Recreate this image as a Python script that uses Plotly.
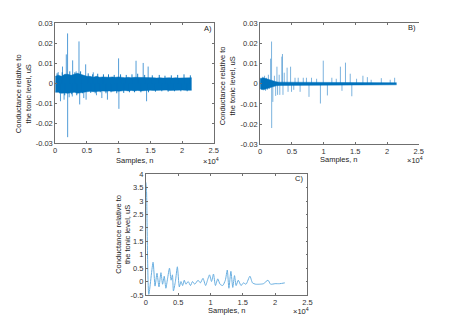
import plotly.graph_objects as go

W, H = 474, 334

# ---------------- data ----------------
# Panel A: dense noise band (envelope) + spikes
band_x = [0, 500, 1000, 1500, 2000, 2500, 3000, 3500, 4000, 4500, 5000, 5500, 6000, 6500, 7000,
          7500, 8000, 8500, 9000, 9500, 10000, 10500, 11000, 11500, 12000, 12500, 13000, 13500,
          14000, 14500, 15000, 15500, 16000, 16500, 17000, 17500, 18000, 18500, 19000, 19500,
          20000, 20500, 21000, 21500]
a_hi = [0.0035, 0.004, 0.0035, 0.0045, 0.0045, 0.004, 0.0045, 0.005, 0.0045, 0.004,
        0.0035, 0.0035, 0.003, 0.0035, 0.003, 0.0032, 0.003, 0.003, 0.0032, 0.003,
        0.0032, 0.003, 0.0028, 0.003, 0.0028, 0.003, 0.003, 0.0028, 0.003, 0.003,
        0.0028, 0.0028, 0.0026, 0.0028, 0.0026, 0.0028, 0.0028, 0.0026, 0.0028, 0.0026,
        0.0026, 0.0028, 0.0026, 0.0028]
a_lo = [-0.0045, -0.0045, -0.005, -0.0048, -0.005, -0.0048, -0.0045, -0.005, -0.0048, -0.0045,
        -0.0042, -0.004, -0.0042, -0.004, -0.004, -0.0038, -0.004, -0.0038, -0.004, -0.0038,
        -0.004, -0.0038, -0.0036, -0.0038, -0.0036, -0.0038, -0.0036, -0.0038, -0.0036, -0.0036,
        -0.0035, -0.0036, -0.0035, -0.0036, -0.0035, -0.0034, -0.0036, -0.0035, -0.0034, -0.0035,
        -0.0034, -0.0035, -0.0034, -0.0035]
a_small_x = [300, 700, 1100, 1500, 2300, 2600, 3100, 3400, 4000, 4300, 5200, 5600, 5900, 6300,
             6700, 7100, 7600, 8000, 8400, 8800, 9300, 9700, 10300, 10800, 11200, 11700, 12100,
             12500, 13000, 13500, 14100, 14700, 15300, 15800, 16400, 16800, 17300, 17800, 18300,
             18800, 19300, 19800, 20300, 20800, 21300]
a_small_v = [0.005, -0.005, 0.0055, -0.006, 0.006, -0.0055, 0.0055, -0.006, 0.006, -0.005,
             0.005, -0.0048, 0.0045, -0.005, 0.0048, -0.0045, 0.0045, -0.005, 0.0045, -0.0045,
             0.0042, -0.005, 0.0045, -0.0048, 0.0042, -0.0045, 0.0045, -0.0045, 0.0048, -0.0045,
             0.0042, -0.0045, 0.004, -0.0042, 0.0042, -0.004, 0.0038, -0.0042, 0.004, -0.004,
             0.0042, -0.004, 0.0045, -0.004, 0.004]
a_spk_x = [470, 830, 1150, 1400, 1750, 1950, 1960, 2200, 2690, 2750, 3300, 3750, 3860, 4500,
           4800, 4870, 6000, 6500, 7350, 8230, 9990, 10040, 12740, 13870, 14400, 14650]
a_spk_v = [0.0056, -0.009, 0.0084, -0.0082, 0.0145, 0.025, -0.027, -0.007, -0.0066, 0.0115,
           0.006, 0.021, -0.0106, -0.0074, 0.0095, -0.0082, 0.0055, -0.006, -0.0074, -0.0082,
           0.0125, -0.0128, 0.0113, 0.0102, -0.009, 0.0084]

# Panel B: thin baseline + biphasic spikes
b_hi = [0.0025, 0.003, 0.0025, 0.002, 0.0012, 0.001, 0.0008, 0.0008, 0.0007, 0.0006,
        0.0006, 0.0005, 0.0005, 0.0005, 0.0005, 0.0005, 0.0005, 0.0005, 0.0005, 0.0005,
        0.0005, 0.0005, 0.0005, 0.0005, 0.0005, 0.0005, 0.0005, 0.0005, 0.0005, 0.0005,
        0.0005, 0.0005, 0.0005, 0.0005, 0.0005, 0.0005, 0.0005, 0.0005, 0.0005, 0.0005,
        0.0005, 0.0005, 0.0005, 0.0005]
b_lo = [-0.0025, -0.003, -0.0025, -0.002, -0.0012, -0.001, -0.0008, -0.0008, -0.0007, -0.0006,
        -0.0006, -0.0005, -0.0005, -0.0005, -0.0005, -0.0005, -0.0005, -0.0005, -0.0005, -0.0005,
        -0.0005, -0.0005, -0.0005, -0.0005, -0.0005, -0.0005, -0.0005, -0.0005, -0.0005, -0.0005,
        -0.0005, -0.0005, -0.0005, -0.0005, -0.0005, -0.0005, -0.0005, -0.0005, -0.0005, -0.0005,
        -0.0005, -0.0005, -0.0005, -0.0005]
b_spk_x = [100, 250, 400, 550, 700, 850, 1000, 1150, 1300, 1450, 1650, 1800, 1820, 2000, 2250,
           2450, 2650, 2750, 3000, 3100, 3420, 3520, 3600, 3800, 4250, 4400, 4800, 4950, 5300,
           5500, 6000, 6300, 6800, 7300, 7700, 8100, 8900, 9500, 9950, 10600, 11300, 12000,
           12650, 12900, 13450, 14200, 14450, 15200, 16200, 16900, 17500, 19100, 20500, 21200]
b_spk_v = [0.003, -0.003, 0.0035, -0.002, 0.004, -0.0035, 0.003, -0.003, 0.0045, -0.0025,
           0.0125, 0.021, -0.022, -0.009, 0.004, -0.006, 0.0085, -0.0055, 0.0045, -0.0055,
           0.0135, 0.0148, -0.0055, 0.0055, 0.008, -0.004, 0.0085, -0.004, -0.003, 0.003,
           0.003, -0.004, 0.003, 0.003, -0.0065, 0.003, 0.0025, -0.0098, 0.0115, -0.0058,
           0.003, 0.0025, 0.0085, -0.0035, 0.0105, 0.005, -0.0062, 0.0025, 0.004, 0.0033,
           0.002, 0.0028, 0.002, 0.003]

# Panel C: smooth decaying response
c_x = [0, 102, 457, 1118, 1422, 1727, 2032, 2337, 2590, 2845, 3099, 3353, 3658, 3912, 4115,
       4267, 4572, 4877, 5182, 5436, 5690, 5944, 6198, 6553, 6909, 7214, 7570, 8077, 8433,
       8839, 9246, 9602, 9856, 10160, 10465, 10770, 11126, 11482, 11888, 12300, 12600, 12850,
       13160, 13450, 13720, 13970, 14300, 14730, 15100, 15500, 16100, 16500, 17000, 17600,
       18200, 18900, 19300, 20000, 20700, 21500]
c_y = [3.7, 3.4, -0.48, 0.72, -0.17, 0.31, -0.2, 0.33, -0.1, 0.2, -0.25, 0.1, 0.5, 0.05, 0.25,
       -0.35, 0.0, 0.55, -0.2, 0.0, -0.15, 0.05, -0.1, 0.0, -0.15, 0.0, -0.1, 0.05, -0.05,
       0.12, -0.15, 0.1, 0.25, 0.0, 0.28, -0.15, 0.1, -0.1, -0.15, 0.05, 0.43, -0.25,
       0.38, -0.22, 0.22, -0.15, 0.05, -0.15, -0.05, -0.1, 0.2, -0.05, -0.1, -0.1,
       -0.08, 0.05, -0.1, -0.08, -0.08, -0.05]

x_tickvals = [0, 5000, 10000, 15000, 20000, 25000]
x_ticktext = ["0", "0.5", "1", "1.5", "2", "2.5"]
ab_yticks = [-0.03, -0.02, -0.01, 0, 0.01, 0.02, 0.03]
ab_yticktext = ["-0.03", "-0.02", "-0.01", "0", "0.01", "0.02", "0.03"]
c_yticks = [-0.5, 0, 0.5, 1, 1.5, 2, 2.5, 3, 3.5, 4]
c_yticktext = ["-0.5", "0", "0.5", "1", "1.5", "2", "2.5", "3", "3.5", "4"]

ytitle = "Conductance relative to<br>the tonic level, uS"
xtitle = "Samples, n"

# ---------------- helpers ----------------
def segs(xs, vs):
    X, Y = [], []
    for x, v in zip(xs, vs):
        X += [x, x, None]
        Y += [0, v, None]
    return X, Y

FONT = "Liberation Sans, Arial, sans-serif"
BLUE = "#0072BD"
LIGHT = "#3f92d2"
FS = 7.5

fig = go.Figure()

# Panel A
sx, sy = segs(a_spk_x, a_spk_v)
fig.add_trace(go.Scatter(x=sx, y=sy, mode="lines", line=dict(color=LIGHT, width=0.9),
                         xaxis="x", yaxis="y", hoverinfo="skip"))
fig.add_trace(go.Scatter(x=band_x, y=a_lo, mode="lines", line=dict(color=BLUE, width=0.5),
                         xaxis="x", yaxis="y", hoverinfo="skip"))
fig.add_trace(go.Scatter(x=band_x, y=a_hi, mode="lines", line=dict(color=BLUE, width=0.5),
                         fill="tonexty", fillcolor=BLUE, xaxis="x", yaxis="y", hoverinfo="skip"))
sx, sy = segs(a_small_x, a_small_v)
fig.add_trace(go.Scatter(x=sx, y=sy, mode="lines", line=dict(color=BLUE, width=0.9),
                         xaxis="x", yaxis="y", hoverinfo="skip"))

# Panel B
sx, sy = segs(b_spk_x, b_spk_v)
fig.add_trace(go.Scatter(x=sx, y=sy, mode="lines", line=dict(color="#5a9fd6", width=0.8),
                         xaxis="x2", yaxis="y2", hoverinfo="skip"))
fig.add_trace(go.Scatter(x=band_x, y=b_lo, mode="lines", line=dict(color=BLUE, width=0.5),
                         xaxis="x2", yaxis="y2", hoverinfo="skip"))
fig.add_trace(go.Scatter(x=band_x, y=b_hi, mode="lines", line=dict(color=BLUE, width=0.5),
                         fill="tonexty", fillcolor=BLUE, xaxis="x2", yaxis="y2", hoverinfo="skip"))

# Panel C
fig.add_trace(go.Scatter(x=c_x, y=c_y, mode="lines", line=dict(color="#6aafe0", width=1.0,
                         shape="spline", smoothing=0.6), xaxis="x3", yaxis="y3", hoverinfo="skip"))

def px2x(p):
    return p / W

def py2y(p):
    return 1 - p / H

axcol = "#6f6f6f"
tickfont = dict(family=FONT, size=FS, color="#333333")

def xaxis(dom, anchor):
    return dict(domain=dom, anchor=anchor, range=[0, 25000], tickvals=x_tickvals,
                ticktext=x_ticktext, ticks="inside", ticklen=2, tickcolor=axcol,
                showline=True, linecolor=axcol, linewidth=0.8, mirror="allticks",
                showgrid=False, zeroline=False, tickfont=tickfont, fixedrange=True)

def yaxis(dom, anchor, rng, tv, tt, mirror="allticks"):
    return dict(domain=dom, anchor=anchor, range=rng, tickvals=tv, ticktext=tt,
                ticks="inside", ticklen=2, tickcolor=axcol, showline=True, linecolor=axcol,
                linewidth=0.8, mirror=mirror, showgrid=False, zeroline=False,
                tickfont=tickfont, fixedrange=True)

fig.update_layout(
    width=W, height=H, margin=dict(l=0, r=0, t=0, b=0),
    paper_bgcolor="white", plot_bgcolor="white", showlegend=False,
    font=dict(family=FONT, size=FS, color="#333333"),
    xaxis=xaxis([px2x(54), px2x(215)], "y"),
    yaxis=yaxis([py2y(143), py2y(20)], "x", [-0.03, 0.03], ab_yticks, ab_yticktext),
    xaxis2=xaxis([px2x(262), px2x(423)], "y2"),
    yaxis2=yaxis([py2y(144), py2y(20)], "x2", [-0.03, 0.03], ab_yticks, ab_yticktext, mirror=False),
    yaxis4=dict(overlaying="y2", anchor="x2", side="right", range=[-0.03, 0.03],
                tickvals=ab_yticks, ticks="inside", ticklen=2, tickcolor="#aaaaaa",
                showticklabels=False, showline=False, showgrid=False, zeroline=False,
                fixedrange=True),
    xaxis3=xaxis([px2x(146), px2x(310)], "y3"),
    yaxis3=yaxis([py2y(299), py2y(175)], "x3", [-0.5, 4], c_yticks, c_yticktext),
)

def ann(x, y, text, angle=0, size=FS, xanchor="center", yanchor="middle"):
    fig.add_annotation(x=px2x(x), y=py2y(y), xref="paper", yref="paper", text=text,
                       showarrow=False, textangle=angle, xanchor=xanchor, yanchor=yanchor,
                       font=dict(family=FONT, size=size, color="#222222"))

# y titles
ann(22, 92, ytitle, angle=-90)
ann(229, 84, ytitle, angle=-90)
ann(123, 237, ytitle, angle=-90)
# x titles
ann(134.5, 161, xtitle)
ann(342.5, 160, xtitle)
ann(228, 315.5, xtitle)
# exponent labels
ann(212, 161, "×10<sup>4</sup>")
ann(419, 160, "×10<sup>4</sup>")
ann(303, 316, "×10<sup>4</sup>")
# panel letters
ann(209, 25, "A)")
ann(416, 24, "B)")
ann(301, 179, "C)")

fig.write_html("out.html")
